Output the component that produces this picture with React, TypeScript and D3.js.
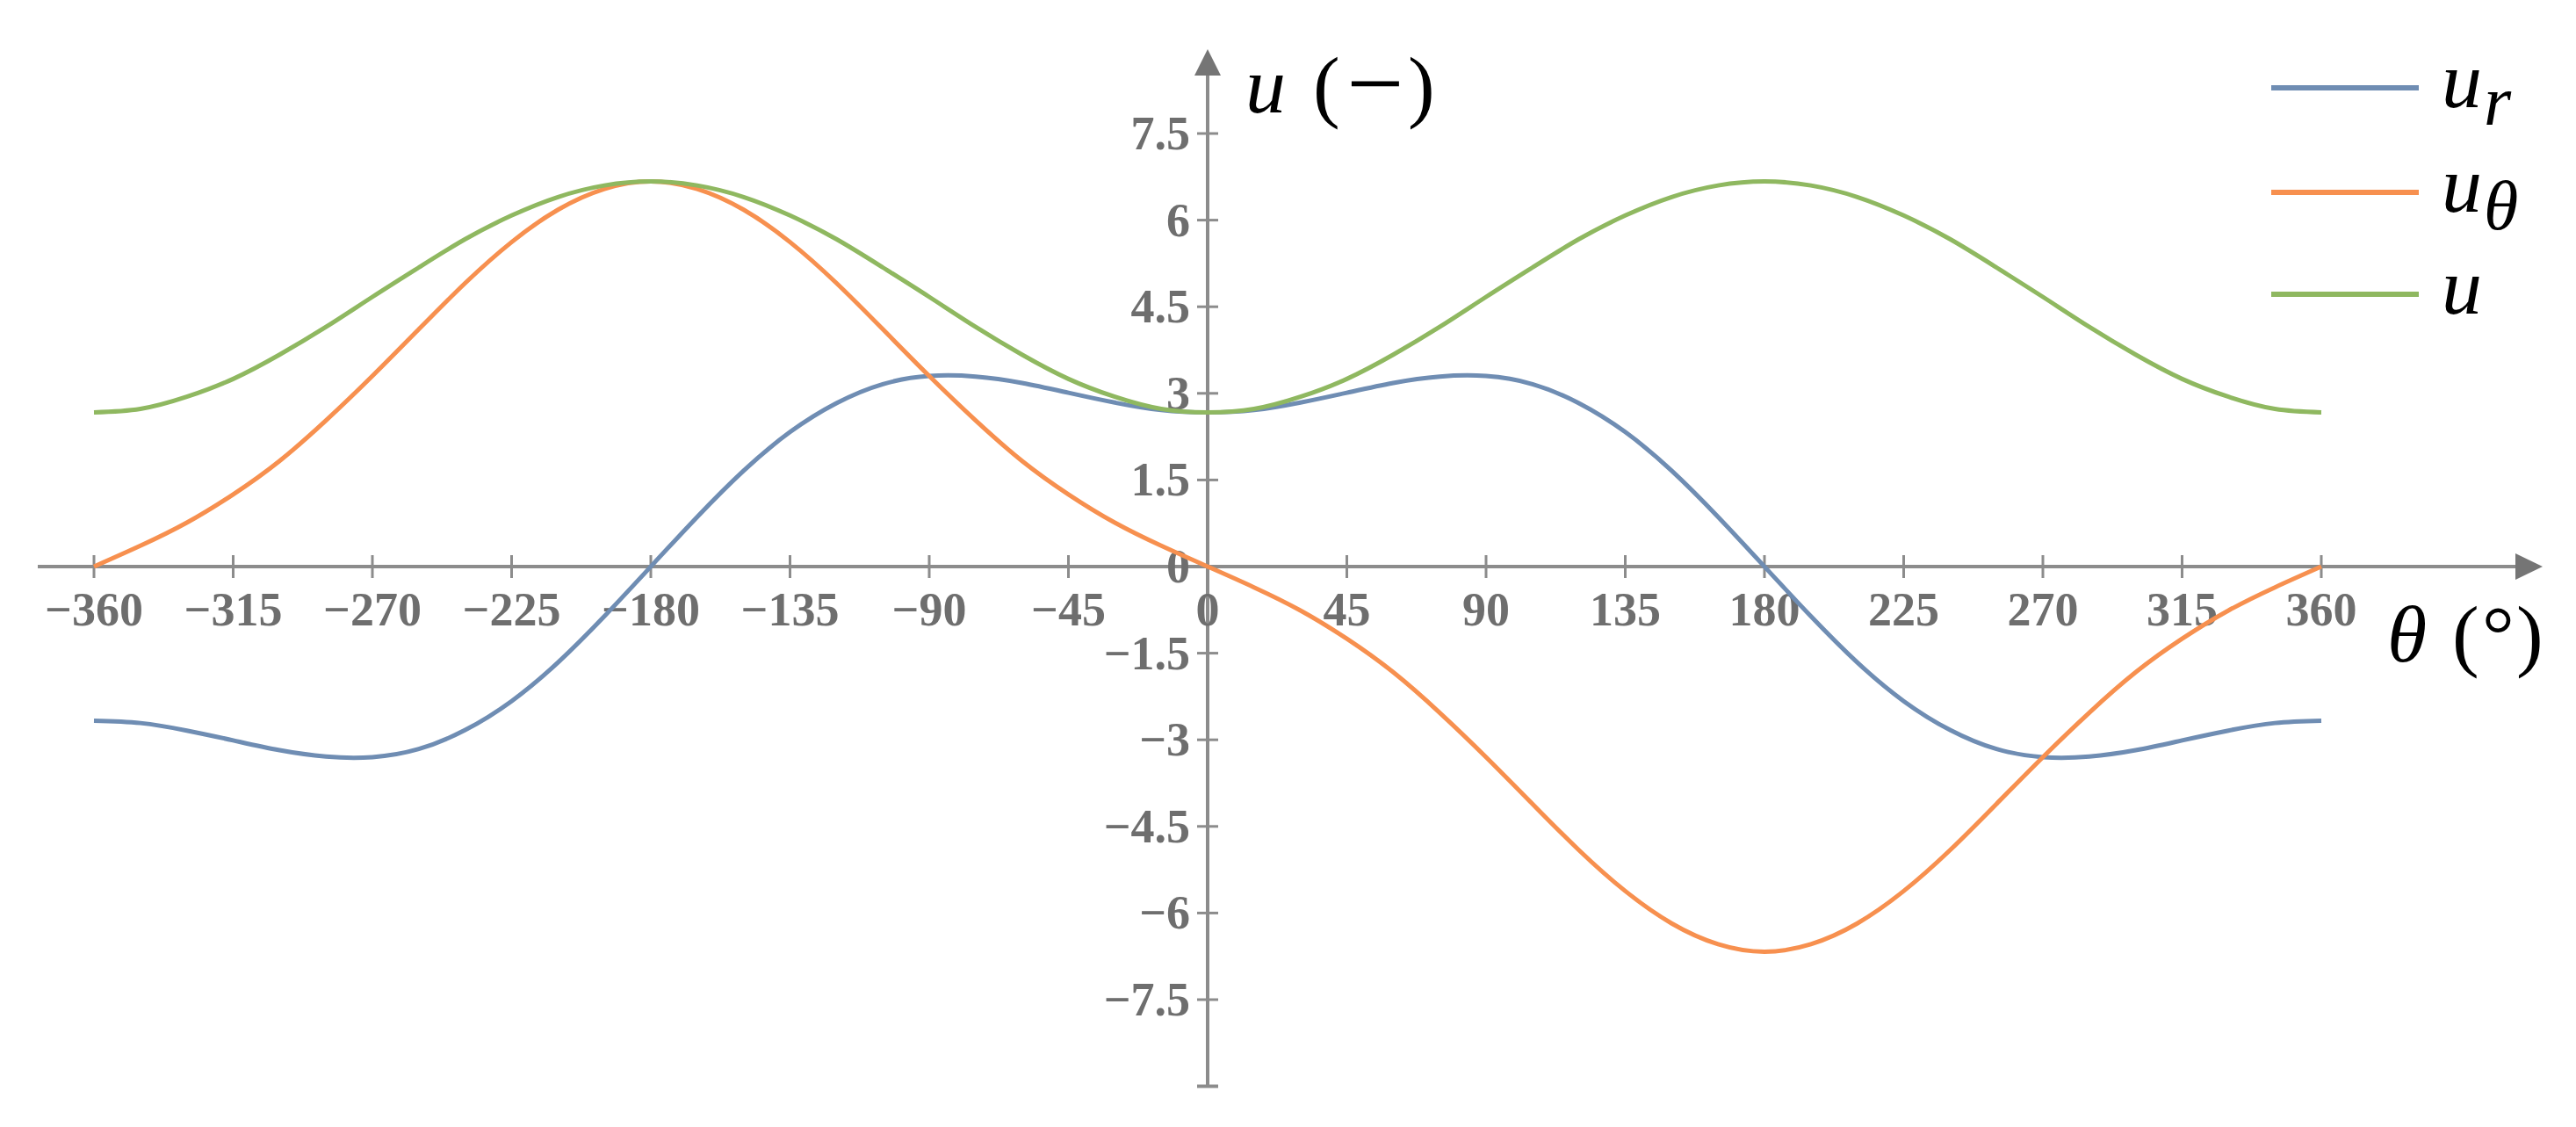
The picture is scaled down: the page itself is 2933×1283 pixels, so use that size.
import React, { useRef, useEffect } from 'react';
import * as d3 from 'd3';

// sampled every 15 degrees
const theta = [
  -360, -345, -330, -315, -300, -285, -270, -255, -240, -225, -210, -195, -180,
  -165, -150, -135, -120, -105, -90, -75, -60, -45, -30, -15, 0,
  15, 30, 45, 60, 75, 90, 105, 120, 135, 150, 165, 180,
  195, 210, 225, 240, 255, 270, 285, 300, 315, 330, 345, 360,
];

const uR = [
  -2.67, -2.71, -2.84, -3.01, -3.18, -3.29, -3.3, -3.16, -2.83, -2.33, -1.66, -0.86, 0,
  0.86, 1.66, 2.33, 2.83, 3.16, 3.3, 3.29, 3.18, 3.01, 2.84, 2.71, 2.67,
  2.71, 2.84, 3.01, 3.18, 3.29, 3.3, 3.16, 2.83, 2.33, 1.66, 0.86, 0,
  -0.86, -1.66, -2.33, -2.83, -3.16, -3.3, -3.29, -3.18, -3.01, -2.84, -2.71, -2.67,
];

const uTheta = [
  0, 0.36, 0.76, 1.25, 1.83, 2.53, 3.3, 4.11, 4.91, 5.62, 6.18, 6.54, 6.67,
  6.54, 6.18, 5.62, 4.91, 4.11, 3.3, 2.53, 1.83, 1.25, 0.76, 0.36, 0,
  -0.36, -0.76, -1.25, -1.83, -2.53, -3.3, -4.11, -4.91, -5.62, -6.18, -6.54, -6.67,
  -6.54, -6.18, -5.62, -4.91, -4.11, -3.3, -2.53, -1.83, -1.25, -0.76, -0.36, 0,
];

const uMag = [
  2.67, 2.73, 2.94, 3.25, 3.67, 4.15, 4.67, 5.18, 5.67, 6.08, 6.4, 6.6, 6.67,
  6.6, 6.4, 6.08, 5.67, 5.18, 4.67, 4.15, 3.67, 3.25, 2.94, 2.73, 2.67,
  2.73, 2.94, 3.25, 3.67, 4.15, 4.67, 5.18, 5.67, 6.08, 6.4, 6.6, 6.67,
  6.6, 6.4, 6.08, 5.67, 5.18, 4.67, 4.15, 3.67, 3.25, 2.94, 2.73, 2.67,
];

const xTicks = [-360, -315, -270, -225, -180, -135, -90, -45, 0, 45, 90, 135, 180, 225, 270, 315, 360];
const yTicks = [-7.5, -6, -4.5, -3, -1.5, 0, 1.5, 3, 4.5, 6, 7.5];

const seriesColors = ['#6f8db3', '#f7904f', '#8fb860'];

const W = 2933;
const H = 1283;

const fmt = (v: number) => (v < 0 ? '\u2212' + String(-v) : String(v));

const App: React.FC = () => {
  const svgRef = useRef<SVGSVGElement | null>(null);

  useEffect(() => {
    const svg = d3.select(svgRef.current!);
    svg.selectAll('*').remove();

    const x = d3.scaleLinear().domain([-360, 360]).range([107, 2643]);
    const y = d3.scaleLinear().domain([-7.5, 7.5]).range([1138, 152]);

    const axisColor = '#8c8c8c';
    const labelColor = '#6e6e6e';
    const serif = '"Liberation Serif", "Times New Roman", serif';
    const x0 = x(0);
    const y0 = y(0);

    // axes
    const ax = svg.append('g');
    ax.append('line')
      .attr('x1', 43).attr('x2', 2870)
      .attr('y1', y0).attr('y2', y0)
      .attr('stroke', axisColor).attr('stroke-width', 4);
    ax.append('path')
      .attr('d', `M2895,${y0} L2864,${y0 - 15} L2864,${y0 + 15} Z`)
      .attr('fill', '#757575');
    ax.append('line')
      .attr('x1', x0).attr('x2', x0)
      .attr('y1', y(-9)).attr('y2', 80)
      .attr('stroke', axisColor).attr('stroke-width', 4);
    ax.append('path')
      .attr('d', `M${x0},56 L${x0 - 15},86 L${x0 + 15},86 Z`)
      .attr('fill', '#757575');
    ax.append('line')
      .attr('x1', x0 - 12).attr('x2', x0 + 12)
      .attr('y1', y(-9)).attr('y2', y(-9))
      .attr('stroke', axisColor).attr('stroke-width', 4);

    // x ticks
    ax.selectAll('line.xt')
      .data(xTicks)
      .enter()
      .append('line')
      .attr('class', 'xt')
      .attr('x1', (d) => x(d)).attr('x2', (d) => x(d))
      .attr('y1', y0 - 13).attr('y2', y0 + 13)
      .attr('stroke', axisColor).attr('stroke-width', 3);
    ax.selectAll('text.xl')
      .data(xTicks)
      .enter()
      .append('text')
      .attr('class', 'xl')
      .attr('x', (d) => x(d))
      .attr('y', y0 + 67)
      .attr('text-anchor', 'middle')
      .attr('font-family', serif)
      .attr('font-weight', 'bold')
      .attr('font-size', 54)
      .attr('fill', labelColor)
      .text((d) => fmt(d));

    // y ticks
    ax.selectAll('line.yt')
      .data(yTicks)
      .enter()
      .append('line')
      .attr('class', 'yt')
      .attr('x1', x0 - 12).attr('x2', x0 + 12)
      .attr('y1', (d) => y(d)).attr('y2', (d) => y(d))
      .attr('stroke', axisColor).attr('stroke-width', 3);
    ax.selectAll('text.yl')
      .data(yTicks)
      .enter()
      .append('text')
      .attr('class', 'yl')
      .attr('x', x0 - 20)
      .attr('y', (d) => y(d) + 18)
      .attr('text-anchor', 'end')
      .attr('font-family', serif)
      .attr('font-weight', 'bold')
      .attr('font-size', 54)
      .attr('fill', labelColor)
      .text((d) => fmt(d));

    // curves
    const line = d3.line<number>()
      .x((_, i) => x(theta[i]))
      .y((d) => y(d))
      .curve(d3.curveNatural);

    [uR, uTheta, uMag].forEach((s, k) => {
      svg.append('path')
        .attr('d', line(s)!)
        .attr('fill', 'none')
        .attr('stroke', seriesColors[k])
        .attr('stroke-width', 5);
    });

    // axis labels
    const yl = svg.append('text')
      .attr('font-family', serif).attr('font-size', 92).attr('fill', '#000');
    yl.append('tspan').attr('x', 1418).attr('y', 128).attr('font-style', 'italic').text('u');
    yl.append('tspan').attr('x', 1495).attr('y', 128).text('(');
    yl.append('tspan').attr('x', 1533).attr('y', 134).attr('font-size', 116).text('\u2212');
    yl.append('tspan').attr('x', 1603).attr('y', 128).text(')');

    const xl = svg.append('text')
      .attr('font-family', serif).attr('font-size', 92).attr('fill', '#000');
    xl.append('tspan').attr('x', 2718).attr('y', 753).attr('font-style', 'italic').text('\u03b8');
    xl.append('tspan').attr('x', 2792).attr('y', 753).text('(');
    xl.append('tspan').attr('x', 2826).attr('y', 753).text('\u00b0');
    xl.append('tspan').attr('x', 2865).attr('y', 753).text(')');

    // legend
    const legend = [
      { main: 'u', sub: 'r', y: 100 },
      { main: 'u', sub: '\u03b8', y: 219 },
      { main: 'u', sub: '', y: 335 },
    ];
    legend.forEach((l, k) => {
      svg.append('line')
        .attr('x1', 2586).attr('x2', 2754)
        .attr('y1', l.y).attr('y2', l.y)
        .attr('stroke', seriesColors[k]).attr('stroke-width', 6);
      const t = svg.append('text')
        .attr('font-family', serif).attr('font-style', 'italic')
        .attr('font-size', 92).attr('fill', '#000')
        .attr('x', 2780).attr('y', l.y + 22);
      t.append('tspan').text(l.main);
      if (l.sub) {
        t.append('tspan').attr('font-size', 80).attr('dx', 2).attr('dy', 20).text(l.sub);
      }
    });
  }, []);

  return (
    <svg
      ref={svgRef}
      width={W}
      height={H}
      style={{ position: 'absolute', left: 0, top: 0, background: '#fff' }}
    />
  );
};

export default App;
